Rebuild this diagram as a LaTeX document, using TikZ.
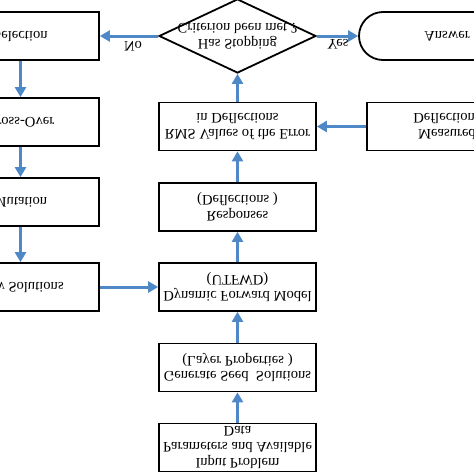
\documentclass[tikz,border=0pt]{standalone}
\usepackage{fontspec}
\setmainfont{Liberation Serif}
\usetikzlibrary{arrows.meta,shapes.geometric}
\definecolor{flowblue}{HTML}{4F88C6}
\tikzset{
  box/.style={draw, line width=1.8pt, fill=white, minimum width=157pt, minimum height=48pt, align=center, inner sep=1pt, font=\fontsize{14.6}{15.6}\selectfont, yscale=-1},
  term/.style={box, rounded corners=24pt, minimum width=176pt},
  dec/.style={diamond, draw, line width=1.8pt, fill=white, minimum width=157pt, minimum height=74pt, inner sep=0pt},
  ar/.style={-{Triangle[length=10pt,width=11pt]}, line width=3pt, draw=flowblue},
  lbl/.style={font=\fontsize{14.6}{15.6}\selectfont, yscale=-1},
}

\begin{document}
\begin{tikzpicture}[x=1pt, y=-1pt]
  \useasboundingbox (0,0) rectangle (474,474);
  \clip (0,0) rectangle (474,474);
  \fill[white] (0,0) rectangle (474,474);
  % left column
  \node[box] (sel) at (20.5,36) {Selection};
  \node[box] (cross) at (20.5,122) {Cross-Over};
  \node[box] (mut) at (20.5,202) {Mutation};
  \node[box] (newsol) at (20.5,287) {New Solutions};
  % middle column
  \node[dec] (stop) at (237.5,36) {};
  \node[lbl, align=center] (stoptxt) at (237.5,36) {Has Stopping\\Criterion been met ?};
  \node[box] (rms) at (237.5,126.5) {RMS Values of the Error\\in Deflections};
  \node[box] (resp) at (237.5,207) {Responses\\(Deflections )};
  \node[box] (dfm) at (237.5,287) {Dynamic Forward Model\\(UTFWD)};
  \node[box] (seed) at (237.5,367.5) {Generate Seed~ Solutions\\(Layer Properties )};
  \node[box] (input) at (237.5,447.5) {Input Problem\\Parameters and Available\\Data};
  % right column
  \node[term] (answer) at (447,36) {Answer};
  \node[box, minimum width=160pt] (meas) at (447,126.5) {Measured\\Deflections};
  % connectors
  \draw[ar] (input) -- (seed);
  \draw[ar] (seed) -- (dfm);
  \draw[ar] (dfm) -- (resp);
  \draw[ar] (resp) -- (rms);
  \draw[ar] (rms) -- (stop);
  \draw[ar] (meas) -- (rms);
  \draw[ar] (stop) -- (sel);
  \draw[ar] (stop) -- (answer);
  \draw[ar] (sel) -- (cross);
  \draw[ar] (cross) -- (mut);
  \draw[ar] (mut) -- (newsol);
  \draw[ar] (newsol) -- (dfm);
  \node[lbl] (no) at (133,46) {No};
  \node[lbl] (yes) at (338,44) {Yes};
\end{tikzpicture}
\end{document}
